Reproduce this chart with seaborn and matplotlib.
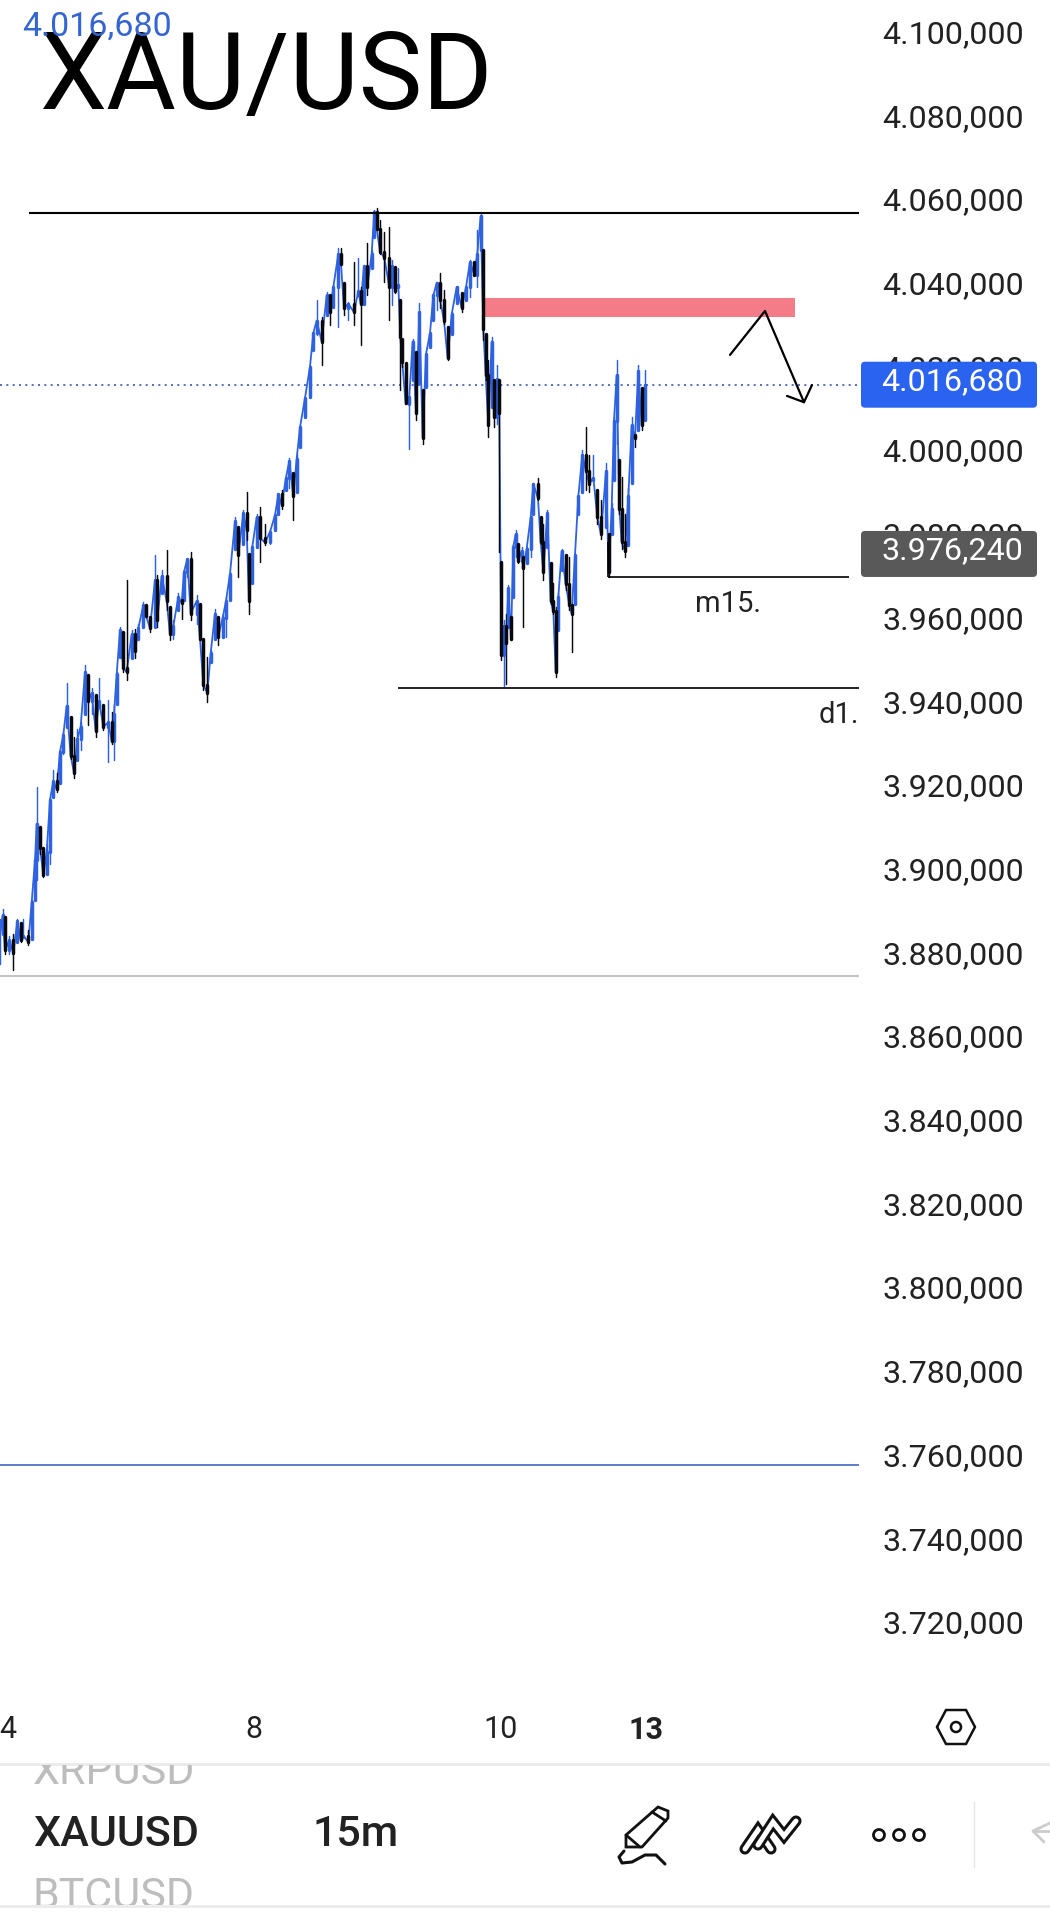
import matplotlib
matplotlib.use("Agg")
import matplotlib.pyplot as plt
import numpy as np
import pandas as pd
import seaborn as sns
from matplotlib.patches import FancyBboxPatch, Rectangle, Circle, Polygon
from matplotlib.transforms import ScaledTranslation

# ---- data (prices in thousandths of the label scale) ----
bar_time = [
 0,8,15,28,40,52,62,70,85,95,
 105,110,120,130,140,150,160,170,180,190,
 200,212,222,232,242,255,265,275,287,297,
 310,325,335,342,350,360,370,380,395,405,
 415,430,438,450,465,472,485,500,510,520,
 535,545,552,562,572,590,600,610,622,632,
 645,655,668,678,690,705,715,730,740,747,
 757,770,780,795,810,825,835,845,858,868,
 880,890,900,915,930,940,950,965,980,990,
 1000,1015,1023,1032,1045,1062,1075,1082,1092,1102,
 1115,1123,1130,1140,1153,1168,1175,1185,1195,1201,
 1207,1217,1228,1238,1248,1258,1268,1278,1290,1300,
 1310,1320,1332,1343,1355,1370,1385,1398,1410,1423,
 1432,1442,1450,1457,1465,1475,1482,1490,1496,1498,
 1504,1512,1518,1525,1533,1540,1547,1555,1565,1570,
 1580,1592,1600,1614,1622,1630,1642,1652,1660,1667,
 1675,1685,1697,1708,1715,1725,1735,1747,1758,1768,
 1780,1792,1803,1818,1826,1835,1842,1850,1858,1865,
 1875,1885,1895,1905,1915,1925,1935]
bar_high = [
 3889.1,3891.5,3889.5,3885,3885.5,3889,3888,3889,3886.3,3893.5,
 3903.8,3920.6,3911,3906.2,3907,3918.2,3924.6,3923.8,3929.3,3933.7,
 3945.3,3937.3,3932.5,3934.5,3936.1,3949.7,3947.3,3944.1,3942.5,3946.5,
 3940.1,3941.3,3938.5,3940.5,3948,3958.8,3957.6,3970,3958,3958.4,
 3959.6,3964.8,3964.4,3961.2,3976,3971.2,3972.4,3977.1,3963.6,3960.4,
 3966.8,3965.2,3972.4,3975.1,3976.7,3966.4,3964.4,3956,3951.6,3953.2,
 3963.2,3961.2,3962,3966,3972,3985.1,3982.7,3986.7,3991.1,3976.3,
 3978.3,3985.9,3987.5,3983.5,3981.9,3985.9,3990.7,3991.5,3994.7,3999.1,
 3995.5,4000.2,4007,4013.8,4021.4,4029.3,4036.9,4032.9,4038.9,4038.1,
 4040.5,4049.3,4049.3,4040.9,4036.5,4046.1,4046.9,4040.1,4045.3,4050.5,
 4048.9,4058.4,4058.8,4056,4053.2,4054.4,4046.5,4044.9,4044.5,4036.9,
 4027.7,4021.8,4013.8,4027.7,4024.6,4036.1,4015.4,4024.2,4029.3,4038.1,
 4041.3,4043.3,4039.3,4030.5,4034.1,4040.1,4038.5,4040.1,4046.5,4046.1,
 4053.6,4058,4048.9,4028.9,4022.6,4028.1,4017.8,4021.4,4017.8,4009.8,
 3974.3,3960.4,3962,3968.8,3961.2,3978.7,3981.9,3978.7,3977.9,3975.5,
 3977.9,3985.1,3993.1,3994.3,3985.1,3983.5,3986.7,3974,3969.2,3963.6,
 3966.8,3977.5,3975.9,3975.5,3964.4,3976.3,3990.3,4001.1,4006.6,4000,
 4000,3991.5,3989.1,3997.9,3981.1,3988.3,4009,4022.6,3998.7,3994.7,
 3985.9,3991.9,4009,4004.6,4021.4,4015.8,4020.2]
bar_low = [
 3878.3,3885.5,3880.7,3880.7,3876.9,3883.5,3883.5,3884.7,3882.7,3884.3,
 3893.5,3898.3,3904.6,3899,3899.8,3902.2,3918.2,3919.4,3921.4,3928.5,
 3934.9,3927.3,3922.6,3927,3929.3,3938.1,3935.3,3938.1,3932.5,3939.7,
 3934.1,3926.5,3930.9,3927.1,3940.5,3951.7,3948,3946.1,3951.3,3951.3,
 3956,3958.8,3961.2,3957.6,3958.8,3958.8,3966.8,3962.8,3955.8,3956,
 3962.8,3960.8,3965.2,3970.8,3960.4,3959.6,3955.6,3943.7,3940.9,3950.5,
 3956,3954.4,3956.4,3956.4,3965.2,3977.5,3970.8,3978.7,3979.5,3962,
 3969.2,3977.9,3974.3,3978.3,3978.7,3981.9,3985.9,3987.1,3991.5,3991.9,
 3984.3,3991.1,4001.8,4009,4013.8,4025,4028.5,4021.4,4033.3,4030.9,
 4035.3,4030.5,4045.3,4033.3,4032.1,4030.9,4038.1,4026.1,4035.7,4038.1,
 4044.5,4052,4053.6,4048,4041.3,4032.1,4035.7,4038.5,4040.1,4015.5,
 4021,4012.2,4001.4,4017.8,4008.2,4017,4002.6,4016.2,4025.7,4032.1,
 4034.5,4034.9,4031.3,4022.6,4028.9,4036.1,4034.1,4036.9,4037.7,4042.9,
 4040.1,4048.9,4027.3,4017.8,4004.2,4011.4,4006.6,4007.4,4009.8,3976.7,
 3950.8,3944.4,3945.2,3958.8,3955.6,3966,3975.5,3974,3972.8,3958.8,
 3974,3975.5,3985.9,3989.1,3978.7,3970,3977.9,3964.4,3962,3946.9,
 3958,3972.4,3967.6,3962.8,3952.8,3964.4,3985.9,3991.1,3991.5,3991.1,
 3993.9,3983.5,3979.9,3982.7,3970.8,3981.1,3993.9,4002.6,3985.9,3977.5,
 3975.5,3978.3,3993.1,4001.8,4005.8,4005.8,4008.2]
bar_close = [
 3885,3890,3881.5,3884,3881,3888.5,3884,3885,3883.5,3893,
 3903,3911.8,3906,3899.5,3905,3917.5,3922,3920,3929,3933,
 3940,3928,3924,3932,3935,3948,3941,3943,3934,3941,
 3935,3936,3931.5,3938,3947.5,3958,3949,3948,3957,3953,
 3958.5,3964,3961.5,3958.5,3970,3960.5,3971,3965,3957,3959,
 3966,3964.5,3972,3975,3962,3965,3956,3945,3943,3952.5,
 3962,3956.5,3961,3965,3971.5,3984,3976,3986,3982,3965,
 3978,3985,3980,3979,3981.5,3985.5,3990.5,3988,3994.5,3998.5,
 3990,3999,4006.5,4013.5,4021,4029,4032,4027,4038,4034,
 4040,4048,4045.5,4035,4036,4034,4039,4036,4045,4040,
 4048,4058,4054,4048.5,4047,4040,4045,4039,4040.5,4028,
 4022,4012,4014,4027,4010,4034,4004,4024,4029,4038,
 4041,4037,4032,4023,4033.5,4040,4035,4040,4046,4043,
 4048,4057,4030,4019,4007,4027,4009,4018,4010,4009.6,
 3952,3959,3955,3968,3956,3978,3981,3974.5,3977,3973,
 3977.5,3985,3993,3989.5,3979,3972,3986,3965,3962.5,3948,
 3966,3977,3969,3964,3962,3976,3990,4000,3996,3993,
 3994.5,3985,3981,3996,3972,3987,4008,4019,3987,3979,
 3977,3990,4007,4004,4020,4007,4016.7]

price_ticks = [4100 - 20 * i for i in range(20)]
price_labels = ["4.100,000","4.080,000","4.060,000","4.040,000","4.020,000","4.000,000",
                "3.980,000","3.960,000","3.940,000","3.920,000","3.900,000","3.880,000",
                "3.860,000","3.840,000","3.820,000","3.800,000","3.780,000","3.760,000",
                "3.740,000","3.720,000"]
date_ticks = [24, 763, 1503, 1938]
date_labels = ["4", "8", "10", "13"]

last_price = 4016.68
last_label = "4.016,680"
prev_price = 3976.24
prev_label = "3.976,240"
top_level = 4057.7
d1_level = 3944.2
m15_level = 3970.7
gray_level = 3875.3
blue_level = 3758.5
zone_low, zone_high = 4032.8, 4037.4
zone_start, zone_end = 1455, 2385
path_t = [2190, 2295, 2412]
path_p = [4023.8, 4034.3, 4012.5]
head_t = [2361, 2412, 2436]
head_p = [4014.0, 4012.5, 4016.6]

BLUE = "#2F62E0"
BLACK = "#08080F"
INK = "#222222"

sns.set_theme(style="white")
plt.rcParams["font.family"] = ["Roboto", "DejaVu Sans"]

fig = plt.figure(figsize=(10.5, 19.2), dpi=100, facecolor="white")
ax = fig.add_axes([0, 230 / 1920, 859 / 1050, 1690 / 1920])
ax.set_xlim(0, 2577)
ax.set_ylim(3704.8, 4108.6)

# candles
close = np.array(bar_close, dtype=float)
opens = np.r_[close[0], close[:-1]]
high = np.array(bar_high, dtype=float)
low = np.array(bar_low, dtype=float)
direction = np.where(close >= opens, "up", "down")
body_top = np.minimum(np.maximum(opens, close), high)
body_bot = np.maximum(np.minimum(opens, close), low)
n = len(close)
ids = np.arange(n)
t = np.array(bar_time, dtype=float)
wicks = pd.DataFrame({"bar": np.r_[ids, ids], "t": np.r_[t, t], "price": np.r_[low, high],
                      "dir": np.r_[direction, direction]})
bodies = pd.DataFrame({"bar": np.r_[ids, ids], "t": np.r_[t, t], "price": np.r_[body_bot, body_top],
                       "dir": np.r_[direction, direction]})
pal = {"up": BLUE, "down": BLACK}
# the many 15-minute bars merge into one running trace between the drawn bars
sns.lineplot(x=t, y=close, color=BLUE, linewidth=1.3, estimator=None, ax=ax, zorder=3.5)
sns.lineplot(data=wicks, x="t", y="price", hue="dir", units="bar", estimator=None, palette=pal,
             linewidth=1.05, legend=False, ax=ax, zorder=4)
sns.lineplot(data=bodies, x="t", y="price", hue="dir", units="bar", estimator=None, palette=pal,
             linewidth=2.5, legend=False, ax=ax, zorder=4)

# levels and drawings
ax.hlines(top_level, 87, 2577, color="black", lw=1.5, zorder=5)
ax.hlines(d1_level, 1194, 2577, color="#222222", lw=1.4, zorder=5)
ax.hlines(m15_level, 1824, 2547, color="black", lw=1.2, zorder=5)
ax.vlines(1824, m15_level, 3979, color="black", lw=1.2, zorder=5)
ax.hlines(gray_level, 0, 2577, color="#C4C4C4", lw=1.5, zorder=3)
ax.hlines(blue_level, 0, 2577, color="#3558C0", lw=1.1, zorder=3)
ax.hlines(last_price, 0, 2577, color="#3B57B5", lw=1.2, linestyles=(0, (1.2, 2.6)), zorder=3)
ax.add_patch(Rectangle((zone_start, zone_low), zone_end - zone_start, zone_high - zone_low,
                       facecolor="#F47C88", edgecolor="none", zorder=3))
ax.plot(path_t, path_p, color="black", lw=1.6, zorder=6)
ax.plot(head_t, head_p, color="black", lw=1.6, zorder=6)

ax.text(2085, 3964.4, "m15.", fontsize=21, color=INK, ha="left", va="center", zorder=6)
ax.text(2576, 3937.7, "d1.", fontsize=21, color=INK, ha="right", va="center", zorder=6)

# axes
ax.yaxis.tick_right()
ax.set_yticks(price_ticks)
ax.set_yticklabels(price_labels, fontsize=23.2, color=INK)
ax.tick_params(axis="y", length=0, pad=17)
ax.set_xticks(date_ticks)
ax.set_xticklabels(date_labels, fontsize=22, color=INK)
ax.tick_params(axis="x", length=0, pad=18)
ax.get_xticklabels()[-1].set_fontweight("bold")
ax.set_xlabel("")
ax.set_ylabel("")
sns.despine(ax=ax, left=True, bottom=True, right=True, top=True)
ax.grid(False)
lift = ScaledTranslation(0, 4.5 / 100, fig.dpi_scale_trans)
for lab in ax.get_yticklabels():
    lab.set_transform(lab.get_transform() + lift)

# overlay in screen pixels for the app chrome
ui = fig.add_axes([0, 0, 1, 1], zorder=10)
ui.set_xlim(0, 1050)
ui.set_ylim(1920, 0)
ui.axis("off")
ui.patch.set_alpha(0)


def py(price):
    return 1920 - ax.transData.transform((0, price))[1]


ui.text(40, 80, "XAU/USD", fontsize=77, color="black", ha="left", va="center")
ui.text(22, 27, last_label, fontsize=24.5, color="#3565D0", ha="left", va="center")

for price, label, col in [(last_price, last_label, "#2A63F0"), (prev_price, prev_label, "#595959")]:
    yc = py(price)
    ui.add_patch(FancyBboxPatch((861, yc - 23), 176, 46, boxstyle="round,pad=0,rounding_size=4",
                                facecolor=col, edgecolor="none", mutation_aspect=1))
    ui.text(1023, yc - 3, label, fontsize=23.2, color="white", ha="right", va="center")

# hexagon button
hx = [937, 946, 966, 975, 966, 946, 937]
hy = [1727, 1710, 1710, 1727, 1744, 1744, 1727]
ui.plot(hx, hy, color="#111111", lw=1.8)
ui.add_patch(Circle((956, 1727), 5, facecolor="none", edgecolor="#111111", lw=1.8))

# separators
ui.plot([0, 1050], [1764, 1764], color="#EBEBEB", lw=2)
ui.plot([0, 1050], [1906, 1906], color="#EBEBEB", lw=2)
ui.plot([974, 974], [1802, 1867], color="#E6E6E6", lw=1)

# symbol rows
clip_a = Rectangle((0, 1765), 300, 40, transform=ui.transData)
clip_b = Rectangle((0, 1870), 300, 35, transform=ui.transData)
ta = ui.text(33, 1772, "XRPUSD", fontsize=31, color="#BDBDBD", ha="left", va="center")
ta.set_clip_path(clip_a)
ta.set_clip_on(True)
tb = ui.text(33, 1897, "BTCUSD", fontsize=31, color="#BDBDBD", ha="left", va="center")
tb.set_clip_path(clip_b)
tb.set_clip_on(True)
ui.text(33, 1835, "XAUUSD", fontsize=31, color=INK, ha="left", va="center", fontweight="medium")
ui.text(312, 1835, "15m", fontsize=31, color=INK, ha="left", va="center", fontweight="medium")

# pencil
ui.add_patch(Polygon([(626, 1847), (626, 1835), (658, 1807), (668, 1811), (668, 1818), (642, 1847)],
                     closed=True, facecolor="none", edgecolor="#111111", lw=2))
ui.plot([652, 666], [1812, 1821], color="#111111", lw=2)
ui.plot([626, 640], [1835, 1847], color="#111111", lw=2)
ui.plot([624, 619, 622, 632, 645, 656, 665], [1851, 1857, 1863, 1862, 1855, 1855, 1864], color="#111111", lw=2.2)

# chevrons
ui.plot([745, 758, 771], [1849, 1830, 1849], color="#111111", lw=8, solid_joinstyle="miter")
ui.plot([745, 758, 771], [1849, 1830, 1849], color="white", lw=3.6, solid_joinstyle="miter")
ui.plot([758, 773, 784, 796], [1845, 1822, 1836, 1821], color="#111111", lw=8, solid_joinstyle="miter")
ui.plot([758, 773, 784, 796], [1845, 1822, 1836, 1821], color="white", lw=3.6, solid_joinstyle="miter")

# three dots
for x in [879, 899, 919]:
    ui.add_patch(Circle((x, 1835), 5.5, facecolor="none", edgecolor="#111111", lw=2))

# back arrow
ui.plot([1050, 1033, 1044], [1823, 1831, 1842], color="#CCCCCC", lw=2)
ui.plot([1033, 1050], [1831, 1831], color="#CCCCCC", lw=2)

fig.savefig("out.png", dpi=100, facecolor="white")
